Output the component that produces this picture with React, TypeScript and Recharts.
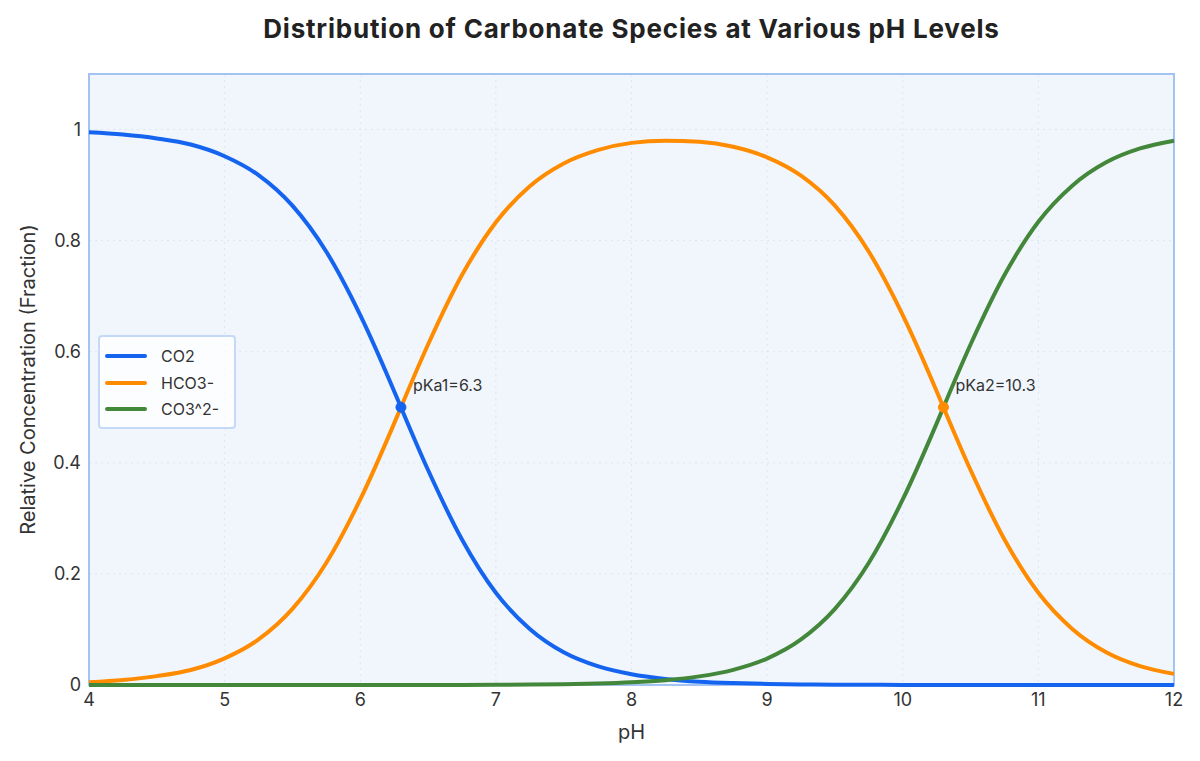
import {
  LineChart,
  Line,
  XAxis,
  YAxis,
  CartesianGrid,
  Legend,
  ReferenceDot,
  ReferenceArea,
} from 'recharts';

// pH sample points (pKa values included so curves pass through the markers)
const phValues = [
  4, 4.25, 4.5, 4.75, 5, 5.25, 5.5, 5.75, 6, 6.25, 6.3, 6.5, 6.75, 7, 7.25, 7.5, 7.75, 8,
  8.25, 8.5, 8.75, 9, 9.25, 9.5, 9.75, 10, 10.25, 10.3, 10.5, 10.75, 11, 11.25, 11.5, 11.75, 12,
];

const co2Fraction = [
  0.995, 0.991, 0.984, 0.973, 0.952, 0.918, 0.863, 0.78, 0.666, 0.529, 0.5, 0.387, 0.262, 0.166,
  0.101, 0.059, 0.034, 0.0195, 0.011, 0.006, 0.0034, 0.0019, 0.001, 0.0005, 0.0003, 0.0001, 0, 0,
  0, 0, 0, 0, 0, 0, 0,
];

const hco3Fraction = [
  0.005, 0.009, 0.016, 0.027, 0.048, 0.082, 0.137, 0.22, 0.334, 0.471, 0.5, 0.613, 0.738, 0.833,
  0.898, 0.939, 0.963, 0.976, 0.98, 0.978, 0.969, 0.95, 0.917, 0.863, 0.78, 0.666, 0.529, 0.5,
  0.387, 0.262, 0.166, 0.101, 0.059, 0.034, 0.02,
];

const co3Fraction = [
  0, 0, 0, 0, 0, 0, 0, 0, 0, 0, 0, 0.0001, 0.0002, 0.0004, 0.0008, 0.0015, 0.0027, 0.0049, 0.0087,
  0.0155, 0.0273, 0.0476, 0.082, 0.137, 0.22, 0.334, 0.471, 0.5, 0.613, 0.738, 0.834, 0.899, 0.941,
  0.966, 0.98,
];

const xTicks = [4, 5, 6, 7, 8, 9, 10, 11, 12];
const yTicks = [0, 0.2, 0.4, 0.6, 0.8, 1];

const pKaPoints = [
  { ph: 6.3, fraction: 0.5, text: 'pKa1=6.3', color: '#1464f0' },
  { ph: 10.3, fraction: 0.5, text: 'pKa2=10.3', color: '#ff8c00' },
];

const series = [
  { key: 'co2', name: 'CO2', color: '#1464f0' },
  { key: 'hco3', name: 'HCO3-', color: '#ff8c00' },
  { key: 'co3', name: 'CO3^2-', color: '#43883a' },
];

const data = phValues.map((ph, i) => ({
  ph,
  co2: co2Fraction[i],
  hco3: hco3Fraction[i],
  co3: co3Fraction[i],
}));

const FONT = 'Inter, "Noto Sans", sans-serif';

const LegendBox = () => (
  <div
    style={{
      width: 134,
      padding: '6px 0 4px 0',
      background: 'rgba(255,255,255,0.75)',
      border: '2px solid #c3d9f7',
      borderRadius: 4,
      fontFamily: FONT,
      fontSize: 16,
      color: '#333',
    }}
  >
    {series.map((s) => (
      <div key={s.key} style={{ display: 'flex', alignItems: 'center', height: 26.5 }}>
        <div
          style={{
            width: 42,
            height: 4,
            borderRadius: 2,
            background: s.color,
            marginLeft: 5,
            marginRight: 14,
          }}
        />
        <span>{s.name}</span>
      </div>
    ))}
  </div>
);

const App = () => {
  return (
    <div style={{ position: 'absolute', left: 0, top: 0, width: 1200, height: 761, background: '#fff' }}>
      <div
        style={{
          position: 'absolute',
          left: 89,
          width: 1085,
          top: 13,
          textAlign: 'center',
          fontFamily: FONT,
          fontWeight: 700,
          fontSize: 26,
          letterSpacing: 0.8,
          color: '#222',
        }}
      >
        Distribution of Carbonate Species at Various pH Levels
      </div>
      <LineChart
        width={1200}
        height={761}
        data={data}
        margin={{ top: 74, right: 26, bottom: 46, left: 10 }}
        style={{ fontFamily: FONT }}
      >
        <CartesianGrid stroke="#dbe5f3" strokeDasharray="2 4" fill="#f1f6fd" />
        <XAxis
          dataKey="ph"
          type="number"
          domain={[4, 12]}
          ticks={xTicks}
          height={30}
          tickLine={false}
          axisLine={false}
          tick={{ fill: '#333', fontSize: 18 }}
          label={{ value: 'pH', position: 'bottom', offset: 10, fill: '#333', fontSize: 20 }}
        />
        <YAxis
          type="number"
          domain={[0, 1.1]}
          ticks={yTicks}
          width={79}
          tickLine={false}
          axisLine={false}
          tick={{ fill: '#333', fontSize: 18 }}
          label={{
            value: 'Relative Concentration (Fraction)',
            angle: -90,
            position: 'insideLeft',
            offset: 18,
            fill: '#333',
            fontSize: 20,
            style: { textAnchor: 'middle' },
          }}
        />
        <ReferenceArea
          x1={4}
          x2={12}
          y1={0}
          y2={1.1}
          fill="none"
          stroke="#a3c4f3"
          strokeWidth={2}
          ifOverflow="visible"
        />
        {series.map((s) => (
          <Line
            key={s.key}
            type="monotone"
            dataKey={s.key}
            name={s.name}
            stroke={s.color}
            strokeWidth={4}
            dot={false}
            activeDot={false}
            isAnimationActive={false}
          />
        ))}
        {pKaPoints.map((p) => (
          <ReferenceDot
            key={p.text}
            x={p.ph}
            y={p.fraction}
            r={5}
            fill={p.color}
            stroke={p.color}
            label={(props: any) => {
              const vb = props.viewBox;
              const cx = vb.x + vb.width / 2;
              const cy = vb.y + vb.height / 2;
              return (
                <text x={cx + 12} y={cy - 16} fill="#333" fontSize={16} fontFamily={FONT}>
                  {p.text}
                </text>
              );
            }}
          />
        ))}
        <Legend
          layout="vertical"
          align="center"
          verticalAlign="middle"
          content={() => <LegendBox />}
          wrapperStyle={{ left: 98, top: 335, width: 'auto' }}
        />
      </LineChart>
    </div>
  );
};

export default App;
